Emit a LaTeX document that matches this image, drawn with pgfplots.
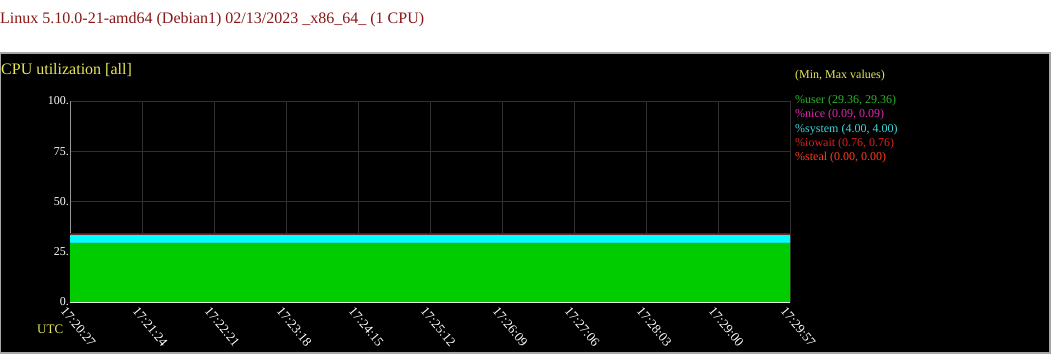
\documentclass[border=0pt]{standalone}
\usepackage{pgfplots}
\pgfplotsset{compat=1.18}
\usepackage{fontspec}
\setmainfont{Liberation Serif}
\definecolor{ttl}{RGB}{136,24,24}
\definecolor{ylw}{RGB}{232,232,90}
\definecolor{cuser}{RGB}{0,204,0}
\definecolor{cnice}{RGB}{224,40,176}
\definecolor{csys}{RGB}{0,255,255}
\definecolor{cio}{RGB}{200,20,20}
\definecolor{csteal}{RGB}{255,60,30}
\definecolor{luser}{RGB}{40,180,40}
\definecolor{lsys}{RGB}{60,215,215}
\definecolor{lio}{RGB}{225,30,30}
\definecolor{gridc}{RGB}{48,48,48}
\begin{document}
\begin{tikzpicture}[x=1pt,y=1pt]
\path[use as bounding box] (0,0) rectangle (1053,357);
\fill[white] (0,0) rectangle (1053,357);
\node[anchor=base west,inner sep=0pt,text=ttl,font=\fontsize{16}{18}\selectfont] at (0,333) {Linux 5.10.0-21-amd64 (Debian1) 02/13/2023 \_x86\_64\_ (1 CPU)};
\fill[black,draw=gray!70,line width=1.5pt] (0.5,4) rectangle (1050,304);
\node[anchor=base west,inner sep=0pt,text=ylw,font=\fontsize{16}{18}\selectfont] at (1,283) {CPU utilization [all]};
\node[anchor=base west,inner sep=0pt,text=ylw,font=\fontsize{12}{14}\selectfont] at (795,279) {(Min, Max values)};
\begin{scope}[font=\fontsize{12}{14}\selectfont]
\node[anchor=base west,inner sep=0pt,text=luser] at (795,254) {\%user (29.36, 29.36)};
\node[anchor=base west,inner sep=0pt,text=cnice] at (795,240) {\%nice (0.09, 0.09)};
\node[anchor=base west,inner sep=0pt,text=lsys] at (795,225) {\%system (4.00, 4.00)};
\node[anchor=base west,inner sep=0pt,text=lio] at (795,211) {\%iowait (0.76, 0.76)};
\node[anchor=base west,inner sep=0pt,text=csteal] at (795,197) {\%steal (0.00, 0.00)};
\end{scope}
\node[anchor=base west,inner sep=0pt,text=ylw,font=\fontsize{13}{15}\selectfont] at (37,24) {UTC};
\begin{axis}[
  at={(70pt,55pt)}, anchor=origin,
  scale only axis, width=720pt, height=201pt,
  xmin=0, xmax=570, ymin=0, ymax=100,
  axis x line=bottom, axis y line=left,
  axis line style={-, line width=1pt},
  x axis line style={white},
  y axis line style={gray!80},
  xtick={0,57,114,171,228,285,342,399,456,513,570},
  xticklabels={17:20:27,17:21:24,17:22:21,17:23:18,17:24:15,17:25:12,17:26:09,17:27:06,17:28:03,17:29:00,17:29:57},
  ytick={0,25,50,75,100},
  yticklabels={0.,25.,50.,75.,100.},
  major tick length=0pt,
  tick style={draw=none},
  grid=major,
  major grid style={gridc, line width=0.8pt},
  xticklabel style={rotate=-50, anchor=north west, inner sep=1pt, text=white, font=\fontsize{13}{15}\selectfont, xshift=0pt, yshift=-4pt},
  yticklabel style={text=white, font=\fontsize{12}{14}\selectfont, inner sep=1pt},
  stack plots=y,
  clip=false,
]
\addplot[draw=none, fill=cuser] coordinates {(0,29.36) (57,29.36) (114,29.36) (171,29.36) (228,29.36) (285,29.36) (342,29.36) (399,29.36) (456,29.36) (513,29.36) (570,29.36)} \closedcycle;
\addplot[draw=none, fill=cnice] coordinates {(0,0.09) (57,0.09) (114,0.09) (171,0.09) (228,0.09) (285,0.09) (342,0.09) (399,0.09) (456,0.09) (513,0.09) (570,0.09)} \closedcycle;
\addplot[draw=none, fill=csys] coordinates {(0,4.00) (57,4.00) (114,4.00) (171,4.00) (228,4.00) (285,4.00) (342,4.00) (399,4.00) (456,4.00) (513,4.00) (570,4.00)} \closedcycle;
\addplot[draw=none, fill=cio!60!black] coordinates {(0,0.76) (57,0.76) (114,0.76) (171,0.76) (228,0.76) (285,0.76) (342,0.76) (399,0.76) (456,0.76) (513,0.76) (570,0.76)} \closedcycle;
\addplot[draw=none, fill=csteal] coordinates {(0,0.00) (57,0.00) (114,0.00) (171,0.00) (228,0.00) (285,0.00) (342,0.00) (399,0.00) (456,0.00) (513,0.00) (570,0.00)} \closedcycle;
\end{axis}
\end{tikzpicture}
\end{document}
